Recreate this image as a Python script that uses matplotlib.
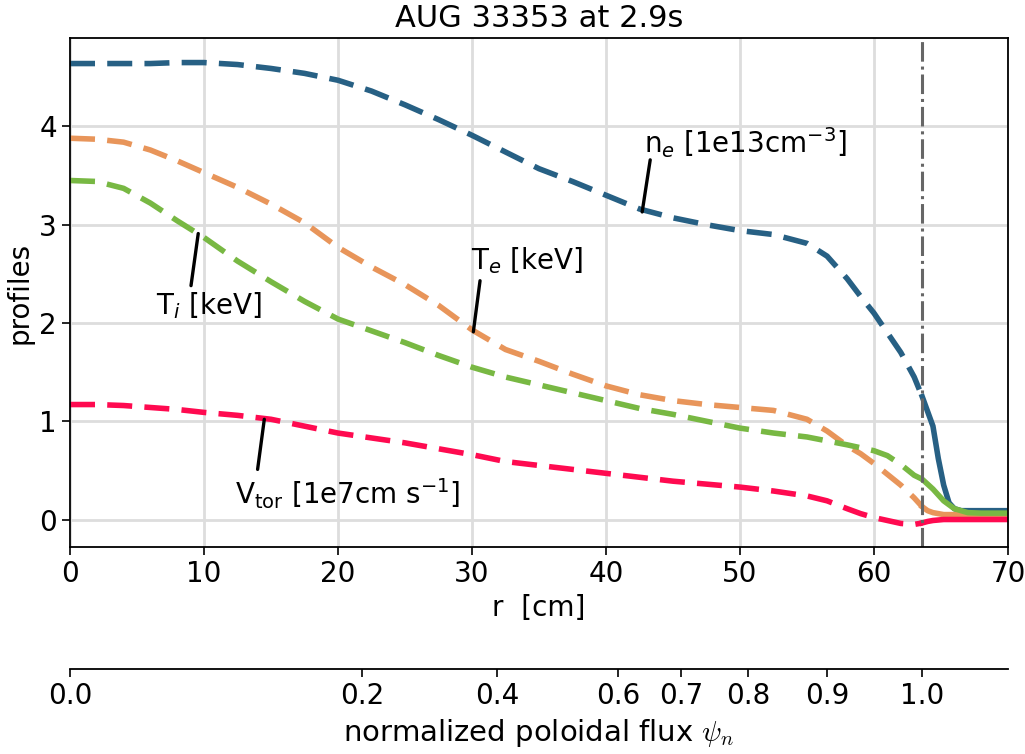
import matplotlib
matplotlib.use("Agg")
import matplotlib.pyplot as plt
import numpy as np

plt.rcParams['font.family'] = ['DejaVu Sans']
plt.rcParams['font.size'] = 20
plt.rcParams['mathtext.fontset'] = 'dejavusans'

# profiles, r in cm
r = [0, 2, 4, 6, 8, 10, 12.5, 15, 17.5, 20, 22.5, 25, 27.5, 30, 32.5, 35, 37.5, 40, 42.5, 45, 47.5,
     50, 52.5, 55, 56.5, 58, 59, 60, 61, 62, 63, 63.6, 64, 64.4, 64.8, 65.2, 65.6, 66, 66.5, 67, 68, 70]
ne = [4.64, 4.64, 4.64, 4.64, 4.65, 4.65, 4.63, 4.59, 4.54, 4.47, 4.36, 4.22, 4.07, 3.91, 3.74, 3.57,
      3.44, 3.30, 3.16, 3.07, 3.00, 2.94, 2.90, 2.81, 2.68, 2.45, 2.27, 2.10, 1.90, 1.70, 1.45, 1.25,
      1.10, 0.95, 0.62, 0.35, 0.17, 0.11, 0.09, 0.09, 0.09, 0.09]
te = [3.88, 3.87, 3.84, 3.76, 3.65, 3.53, 3.38, 3.21, 3.02, 2.77, 2.57, 2.39, 2.18, 1.93, 1.73, 1.61,
      1.48, 1.36, 1.27, 1.21, 1.17, 1.14, 1.11, 1.02, 0.90, 0.75, 0.67, 0.57, 0.46, 0.35, 0.22, 0.13,
      0.09, 0.07, 0.06, 0.05, 0.05, 0.05, 0.05, 0.05, 0.05, 0.05]
ti = [3.45, 3.44, 3.37, 3.22, 3.04, 2.87, 2.63, 2.42, 2.22, 2.04, 1.92, 1.80, 1.67, 1.55, 1.45, 1.37,
      1.29, 1.21, 1.13, 1.07, 1.00, 0.93, 0.88, 0.84, 0.80, 0.76, 0.73, 0.70, 0.65, 0.56, 0.45, 0.41,
      0.36, 0.31, 0.25, 0.19, 0.15, 0.11, 0.09, 0.07, 0.065, 0.065]
vtor = [1.17, 1.17, 1.16, 1.14, 1.12, 1.09, 1.06, 1.02, 0.95, 0.88, 0.83, 0.78, 0.72, 0.66, 0.59, 0.55,
        0.51, 0.47, 0.43, 0.39, 0.36, 0.33, 0.29, 0.24, 0.19, 0.11, 0.06, 0.02, -0.01, -0.04, -0.05,
        -0.035, -0.02, -0.01, -0.005, 0.0, 0.0, 0.0, 0.0, 0.0, 0.0, 0.0]

r_sep = 63.6
psi_ticks = [0.0, 0.2, 0.4, 0.6, 0.7, 0.8, 0.9, 1.0]
psi_ticks_r = [0.0, 21.8, 31.9, 40.9, 45.6, 50.6, 56.5, 63.6]

colors = {'ne': '#276084', 'te': '#e8955a', 'ti': '#78b843', 'vtor': '#ff0a50'}

fig = plt.figure(figsize=(10.25, 7.54), dpi=100)
ax = fig.add_axes([0.0683, 0.2745, 0.9151, 0.6751])

r = np.array(r)
inside = r <= r_sep
outside = r >= r_sep
for key, y in [('ne', ne), ('te', te), ('ti', ti), ('vtor', vtor)]:
    y = np.array(y)
    ax.plot(r[inside], y[inside], color=colors[key], lw=4, dashes=(4.5, 2.2))
    ax.plot(r[outside], y[outside], color=colors[key], lw=4)

ax.axvline(r_sep, color='#666666', lw=2.2, ls='-.')

ax.set_xlim(0, 70)
ax.set_ylim(-0.28, 4.9)
ax.set_yticks([0, 1, 2, 3, 4])
ax.grid(True, color='#dddddd', lw=2)
ax.set_axisbelow(True)
ax.tick_params(direction='out', length=6, width=1.2)
for s in ax.spines.values():
    s.set_linewidth(1.3)
ax.set_xlabel('r  [cm]')
ax.set_ylabel('profiles')
ax.set_title('AUG 33353 at 2.9s', fontsize=22, pad=8)

# labels with leader lines
lab = dict(arrowprops=dict(arrowstyle='-', lw=2.4, color='k', shrinkA=0, shrinkB=0))
ax.annotate('', xy=(42.7, 3.13), xytext=(43.3, 3.66), **lab)
ax.text(42.8, 3.84, r'n$_e$ [1e13cm$^{-3}$]', va='center', ha='left')
ax.annotate('', xy=(30.1, 1.91), xytext=(30.6, 2.43), **lab)
ax.text(29.9, 2.63, r'T$_e$ [keV]', va='center', ha='left')
ax.annotate('', xy=(9.57, 2.91), xytext=(9.03, 2.38), **lab)
ax.text(6.4, 2.18, r'T$_i$ [keV]', va='center', ha='left')
ax.annotate('', xy=(14.5, 1.02), xytext=(14.0, 0.51), **lab)
ax.text(12.3, 0.26, r'V$_{\rm tor}$ [1e7cm s$^{-1}$]', va='center', ha='left')

# poloidal flux axis
ax2 = fig.add_axes([0.0683, 0.1127, 0.9151, 0.001])
ax2.set_xlim(0, 70)
ax2.set_yticks([])
for side in ['left', 'right', 'top']:
    ax2.spines[side].set_visible(False)
ax2.spines['bottom'].set_linewidth(1.3)
ax2.set_xticks(psi_ticks_r)
ax2.set_xticklabels(['%.1f' % p for p in psi_ticks])
ax2.tick_params(direction='out', length=6, width=1.2)
ax2.set_xlabel(r'normalized poloidal flux $\psi_n$', math_fontfamily='cm', fontsize=21, labelpad=5)
ax2.patch.set_visible(False)

fig.savefig('out.png', dpi=100)
